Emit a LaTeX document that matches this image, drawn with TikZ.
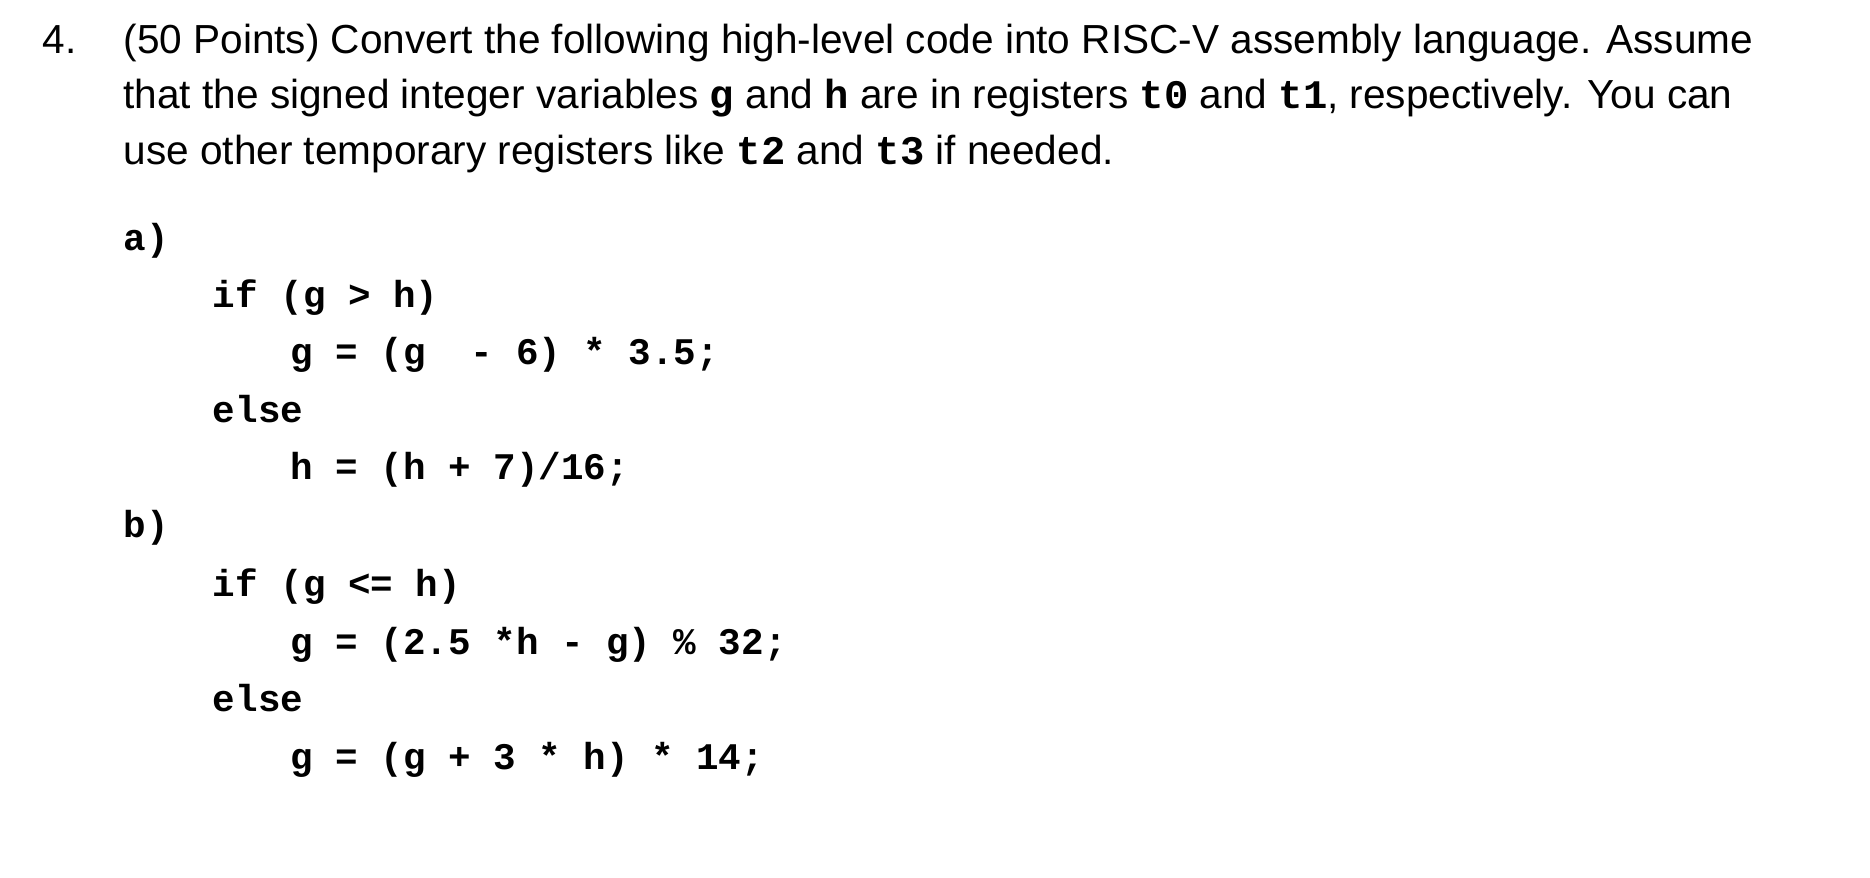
\documentclass[tikz,border=0pt]{standalone}
\usepackage{fontspec}
\setmainfont{Liberation Sans}
\setmonofont{Liberation Mono}
\newcommand{\cd}[1]{{\ttfamily\bfseries #1}}
\begin{document}
\begin{tikzpicture}[x=0.01193cm,y=-0.01193cm,
  txt/.style={anchor=base west,inner sep=0pt,font=\fontsize{11.55pt}{14pt}\selectfont},
  code/.style={anchor=base west,inner sep=0pt,font=\fontsize{10.7pt}{12pt}\selectfont\ttfamily\bfseries}]
\useasboundingbox[fill=white] (0,0) rectangle (1568,736);
\node[txt] (n) at (35,45) {4.};
\node[txt] (l1) at (103,45) {(50 Points) Convert the following high-level code into RISC-V assembly language. Assume};
\node[txt] (l2) at (103,91) {that the signed integer variables \cd{g} and \cd{h} are in registers \cd{t0} and \cd{t1}, respectively. You can};
\node[txt] (l3) at (103,138) {use other temporary registers like \cd{t2} and \cd{t3} if needed.};
\node[code] (a) at (103,210) {a)};
\node[code] (a1) at (178,258) {if (g > h)};
\node[code] (a2) at (243,306) {g = (g\ \ - 6) * 3.5;};
\node[code] (a3) at (178,354) {else};
\node[code] (a4) at (243,402) {h = (h + 7)/16;};
\node[code] (b) at (103,451) {b)};
\node[code] (b1) at (178,500) {if (g <= h)};
\node[code] (b2) at (243,549) {g = (2.5 *h - g) \% 32;};
\node[code] (b3) at (178,597) {else};
\node[code] (b4) at (243,645) {g = (g + 3 * h) * 14;};
\end{tikzpicture}
\end{document}
